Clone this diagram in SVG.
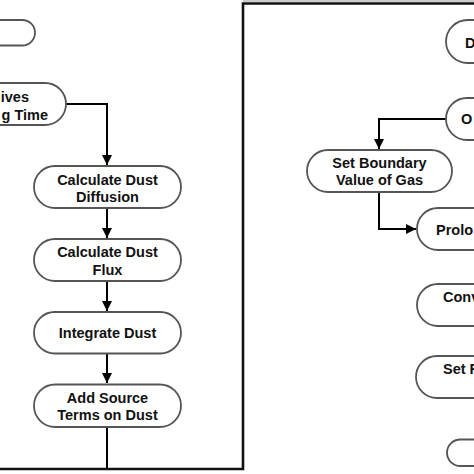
<svg xmlns="http://www.w3.org/2000/svg" width="474" height="474" viewBox="0 0 474 474">
<defs>
<style>
.pill{fill:#fff;stroke:#555;stroke-width:1.8}
.t{font-family:"Liberation Sans",Arial,sans-serif;font-weight:bold;font-size:14.5px;fill:#111}
.c{text-anchor:middle}
.e{text-anchor:end}
.ln{fill:none;stroke:#000;stroke-width:2}
.frame{fill:none;stroke:#111;stroke-width:2.6}
</style>
<marker id="ah" viewBox="0 0 10 10" refX="10" refY="5" markerWidth="11" markerHeight="10" markerUnits="userSpaceOnUse" orient="auto">
<path d="M0,0 L10,5 L0,10 Z" fill="#000"/>
</marker>
</defs>
<rect width="474" height="474" fill="#fff"/>
<line x1="243" y1="1" x2="474" y2="1" stroke="#bbb" stroke-width="1.5"/>
<g id="frame">
<path class="frame" d="M474,3.5 H243 V469 H0"/>
</g>
<g id="connectors">
<path class="ln" d="M66,104 H107 V165" marker-end="url(#ah)"/>
<path class="ln" d="M107,208 V238" marker-end="url(#ah)"/>
<path class="ln" d="M107,281 V311" marker-end="url(#ah)"/>
<path class="ln" d="M107,353 V383" marker-end="url(#ah)"/>
<path class="ln" d="M107,427 V469"/>
<path class="ln" d="M446,119 H379 V149" marker-end="url(#ah)"/>
<path class="ln" d="M379,192 V229 H416" marker-end="url(#ah)"/>
</g>
<g id="n1"><rect class="pill" x="-100" y="20" width="135" height="25.5" rx="12.75"/></g>
<g id="n2"><rect class="pill" x="-100" y="83" width="166" height="42" rx="21"/>
<text class="t e" x="29" y="102">ives</text><text class="t e" x="48" y="120">g Time</text></g>
<g id="n3"><rect class="pill" x="34" y="166" width="147" height="42" rx="21"/>
<text class="t c" x="107.5" y="184.5">Calculate Dust</text><text class="t c" x="107.5" y="202">Diffusion</text></g>
<g id="n4"><rect class="pill" x="34" y="239" width="147" height="42" rx="21"/>
<text class="t c" x="107.5" y="257">Calculate Dust</text><text class="t c" x="107.5" y="274.5">Flux</text></g>
<g id="n5"><rect class="pill" x="34" y="312" width="147" height="41.5" rx="20.75"/>
<text class="t c" x="107.5" y="338">Integrate Dust</text></g>
<g id="n6"><rect class="pill" x="34" y="384.5" width="147" height="42.5" rx="21.25"/>
<text class="t c" x="107.5" y="402.5">Add Source</text><text class="t c" x="107.5" y="420">Terms on Dust</text></g>
<g id="n7"><rect class="pill" x="446" y="20" width="160" height="43" rx="21.5"/>
<text class="t" x="465" y="48">D</text></g>
<g id="n8"><rect class="pill" x="446" y="98" width="160" height="42" rx="21"/>
<text class="t" x="461" y="124">O</text></g>
<g id="n9"><rect class="pill" x="307" y="150" width="145" height="42" rx="21"/>
<text class="t c" x="379.5" y="168">Set Boundary</text><text class="t c" x="379.5" y="185">Value of Gas</text></g>
<g id="n10"><rect class="pill" x="417" y="208" width="180" height="42" rx="21"/>
<text class="t" x="436" y="235">Prolo</text></g>
<g id="n11"><rect class="pill" x="417" y="284" width="180" height="42" rx="21"/>
<text class="t" x="443" y="302">Conv</text></g>
<g id="n12"><rect class="pill" x="416" y="356" width="180" height="42" rx="21"/>
<text class="t" x="443" y="374">Set F</text></g>
<g id="n13"><rect class="pill" x="447" y="439.5" width="160" height="26.5" rx="13.25"/></g>
</svg>
